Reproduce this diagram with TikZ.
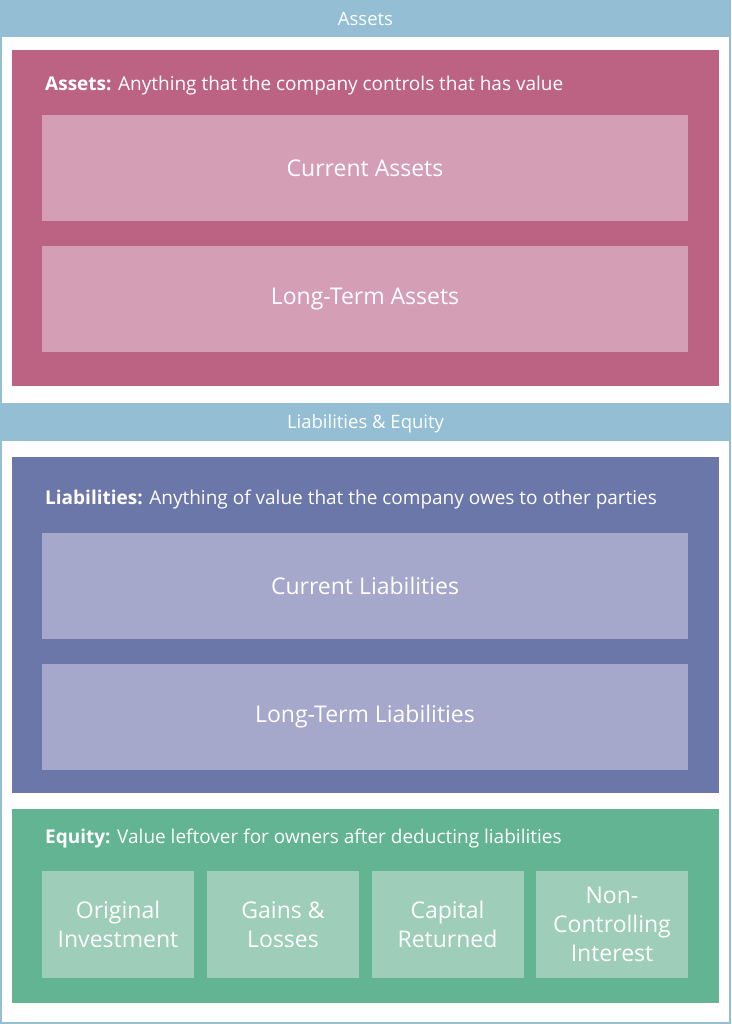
\documentclass[tikz,border=0pt]{standalone}
\usepackage{fontspec}
\setmainfont{Open Sans}
\definecolor{bandblue}{HTML}{93BED3}
\definecolor{assetdark}{HTML}{BC6384}
\definecolor{assetlight}{HTML}{D49EB5}
\definecolor{liabdark}{HTML}{6C77A9}
\definecolor{liablight}{HTML}{A5A8CA}
\definecolor{equitydark}{HTML}{62B492}
\definecolor{equitylight}{HTML}{9ECDBA}
\begin{document}
\begin{tikzpicture}[x=1pt,y=-1pt,
  band text/.style={text=white,font=\fontsize{18.5}{20}\selectfont},
  desc text/.style={anchor=west,text=white,inner sep=0pt,font=\fontsize{19}{22}\selectfont},
  wide box/.style={minimum width=646pt,minimum height=106pt,inner sep=0pt,text=white,font=\fontsize{23}{26}\selectfont},
  small box/.style={minimum width=152pt,minimum height=107pt,inner sep=0pt,text=white,align=center,font=\fontsize{23}{29}\selectfont}]
\fill [bandblue] (0,0) rectangle (731,1024);
\fill [white] (2,37) rectangle (729,403);
\fill [white] (2,441) rectangle (729,1022);
\node [band text] (assets head) at (365.5,19) {Assets};
\node [band text] (le head) at (365.5,424) {Liabilities \& Equity};
% assets
\fill [assetdark] (12,50) rectangle (719,386);
\node [desc text] (assets desc) at (45,86) {\textbf{Assets:} Anything that the company controls that has value};
\node [wide box,fill=assetlight] (cur assets) at (365,168) {Current Assets};
\node [wide box,fill=assetlight] (lt assets) at (365,299) {Long-Term Assets};
% liabilities
\fill [liabdark] (12,457) rectangle (719,793);
\node [desc text] (liab desc) at (45,500) {\textbf{Liabilities:} Anything of value that the company owes to other parties};
\node [wide box,fill=liablight] (cur liab) at (365,586) {Current Liabilities};
\node [wide box,fill=liablight] (lt liab) at (365,717) {Long-Term Liabilities};
% equity
\fill [equitydark] (12,809) rectangle (719,1003);
\node [desc text] (equity desc) at (45,839) {\textbf{Equity:} Value leftover for owners after deducting liabilities};
\node [small box,fill=equitylight] (orig inv) at (118,924.5) {Original\\Investment};
\node [small box,fill=equitylight] (gains) at (283,924.5) {Gains \&\\Losses};
\node [small box,fill=equitylight] (cap ret) at (447.5,924.5) {Capital\\Returned};
\node [small box,fill=equitylight] (nci) at (612,924.5) {Non-\\Controlling\\Interest};
\end{tikzpicture}
\end{document}
